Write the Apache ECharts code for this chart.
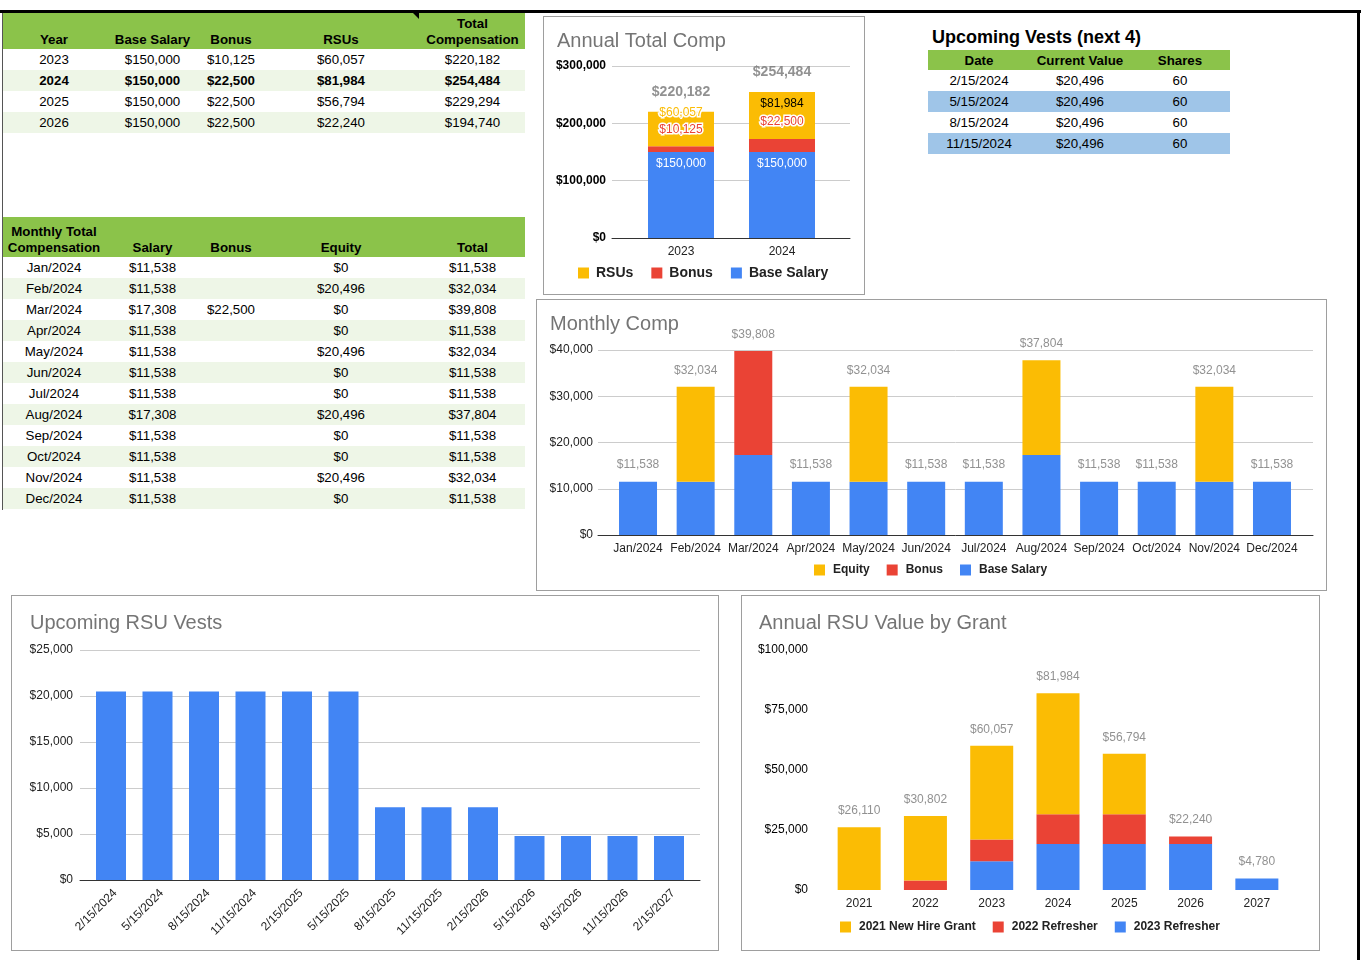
<!DOCTYPE html>
<html>
<head>
<meta charset="utf-8">
<script src="https://cdn.jsdelivr.net/npm/echarts/dist/echarts.min.js"></script>
<style>
  html,body{margin:0;padding:0;background:#fff;}
  body{width:1372px;height:960px;position:relative;overflow:hidden;font-family:"Liberation Sans",Arial,sans-serif;}
  .box{position:absolute;border:1px solid #9e9e9e;box-sizing:border-box;background:#fff;}
  .chart{position:absolute;left:0;top:0;width:100%;height:100%;}
  .line{position:absolute;background:#000;}
  table{border-collapse:collapse;table-layout:fixed;font-size:13.3px;color:#000;position:absolute;}
  td,th{padding:0;text-align:center;white-space:nowrap;overflow:visible;}
  th{font-weight:bold;vertical-align:bottom;line-height:16px;padding-bottom:1px;background:#8bc34a;}
  td{height:20px;line-height:20px;padding-top:1px;}
  tr.g td{background:#eef6e7;}
  tr.b td{background:#9fc5e8;}
  tr.bold td{font-weight:bold;}
  #vtitle{position:absolute;left:932px;top:27px;font-size:18px;font-weight:bold;line-height:20px;white-space:nowrap;}
  #tri{position:absolute;left:413px;top:13px;width:0;height:0;border-top:6px solid #000;border-left:6px solid transparent;}
</style>
</head>
<body>
<div class="line" style="left:0;top:10px;width:1361px;height:3px;"></div>
<div class="line" style="left:1357px;top:10px;width:3px;height:950px;"></div>
<div class="line" style="left:2px;top:13px;width:1px;height:497px;background:#555;"></div>

<table id="annualTable" style="left:3px;top:13px;width:522px;"></table>
<div id="tri"></div>
<table id="monthTable" style="left:3px;top:217px;width:522px;"></table>
<div id="vtitle">Upcoming Vests (next 4)</div>
<table id="vestTable" style="left:928px;top:50px;width:302px;"></table>

<div class="box" style="left:543px;top:16px;width:322px;height:279px;"><div class="chart" id="c1"></div></div>
<div class="box" style="left:536px;top:299px;width:791px;height:292px;"><div class="chart" id="c2"></div></div>
<div class="box" style="left:11px;top:595px;width:708px;height:356px;"><div class="chart" id="c3"></div></div>
<div class="box" style="left:741px;top:595px;width:579px;height:356px;"><div class="chart" id="c4"></div></div>

<script>
// ---------------- DATA ----------------
const annualYears = ['2023', '2024', '2025', '2026'];
const annualBase = [150000, 150000, 150000, 150000];
const annualBonus = [10125, 22500, 22500, 22500];
const annualRSU = [60057, 81984, 56794, 22240];
const annualTotal = [220182, 254484, 229294, 194740];
const annualChartCount = 2; // chart shows 2023 and 2024

const months = ['Jan/2024', 'Feb/2024', 'Mar/2024', 'Apr/2024', 'May/2024', 'Jun/2024',
                'Jul/2024', 'Aug/2024', 'Sep/2024', 'Oct/2024', 'Nov/2024', 'Dec/2024'];
const monthSalary = [11538, 11538, 17308, 11538, 11538, 11538, 11538, 17308, 11538, 11538, 11538, 11538];
const monthBonus = [0, 0, 22500, 0, 0, 0, 0, 0, 0, 0, 0, 0];
const monthEquity = [0, 20496, 0, 0, 20496, 0, 0, 20496, 0, 0, 20496, 0];
const monthTotal = [11538, 32034, 39808, 11538, 32034, 11538, 11538, 37804, 11538, 11538, 32034, 11538];

const vestDates = ['2/15/2024', '5/15/2024', '8/15/2024', '11/15/2024', '2/15/2025', '5/15/2025',
                   '8/15/2025', '11/15/2025', '2/15/2026', '5/15/2026', '8/15/2026', '11/15/2026', '2/15/2027'];
const vestValues = [20496, 20496, 20496, 20496, 20496, 20496, 7901, 7901, 7901, 4780, 4780, 4780, 4780];
const nextVestShares = [60, 60, 60, 60];

const grantYears = ['2021', '2022', '2023', '2024', '2025', '2026', '2027'];
const grantNewHire2021 = [26110, 26802, 39057, 50380, 25190, 0, 0];
const grantRefresher2022 = [0, 4000, 9050, 12484, 12484, 3120, 0];
const grantRefresher2023 = [0, 0, 11950, 19120, 19120, 19120, 4780];
const grantTotal = [26110, 30802, 60057, 81984, 56794, 22240, 4780];

// ---------------- HELPERS ----------------
const fmt = v => '$' + Number(v).toLocaleString('en-US');
const BLUE = '#4285f4', RED = '#ea4335', YELLOW = '#fbbc04';
const FONT = '"Liberation Sans", Arial, sans-serif';
const titleStyle = { fontSize: 20, fontWeight: 'normal', color: '#757575', fontFamily: FONT };

// ---------------- TABLES ----------------
(function () {
  const colW = [102, 95, 62, 158, 105];
  const cg = '<colgroup>' + colW.map(w => '<col style="width:' + w + 'px">').join('') + '</colgroup>';
  let h = cg + '<tr style="height:36px"><th>Year</th><th>Base Salary</th><th>Bonus</th><th>RSUs</th><th>Total<br>Compensation</th></tr>';
  annualYears.forEach((y, i) => {
    const cls = [(i % 2 === 1) ? 'g' : '', i === 1 ? 'bold' : ''].join(' ');
    h += '<tr class="' + cls + '"><td>' + y + '</td><td>' + fmt(annualBase[i]) + '</td><td>' + fmt(annualBonus[i]) +
         '</td><td>' + fmt(annualRSU[i]) + '</td><td>' + fmt(annualTotal[i]) + '</td></tr>';
  });
  document.getElementById('annualTable').innerHTML = h;

  let m = cg + '<tr style="height:40px"><th>Monthly Total<br>Compensation</th><th>Salary</th><th>Bonus</th><th>Equity</th><th>Total</th></tr>';
  months.forEach((mo, i) => {
    m += '<tr class="' + (i % 2 === 1 ? 'g' : '') + '"><td>' + mo + '</td><td>' + fmt(monthSalary[i]) + '</td><td>' +
         (monthBonus[i] ? fmt(monthBonus[i]) : '') + '</td><td>' + fmt(monthEquity[i]) + '</td><td>' + fmt(monthTotal[i]) + '</td></tr>';
  });
  document.getElementById('monthTable').innerHTML = m;

  let v = '<colgroup><col style="width:102px"><col style="width:100px"><col style="width:100px"></colgroup>' +
          '<tr style="height:20px"><th>Date</th><th>Current Value</th><th>Shares</th></tr>';
  nextVestShares.forEach((s, i) => {
    v += '<tr class="' + (i % 2 === 1 ? 'b' : '') + '"><td>' + vestDates[i] + '</td><td>' + fmt(vestValues[i]) + '</td><td>' + s + '</td></tr>';
  });
  document.getElementById('vestTable').innerHTML = v;
})();

// ---------------- CHART 1: Annual Total Comp ----------------
(function () {
  const n = annualChartCount;
  const yrs = annualYears.slice(0, n);
  const halo = { textBorderColor: '#fff', textBorderWidth: 3 };
  const baseLbl = [{ pos: 12, color: '#fff' }, { pos: 12, color: '#fff' }];
  const bonusLbl = [Object.assign({ pos: -17, color: RED }, halo), Object.assign({ pos: -17, color: RED }, halo)];
  const rsuLbl = [Object.assign({ pos: 1, color: YELLOW }, halo), { pos: 12, color: '#000' }];
  const mk = (vals, lbls) => vals.slice(0, n).map((v, i) => {
    const L = lbls[i];
    const label = { show: true, position: ['50%', L.pos], align: 'center', verticalAlign: 'middle',
      color: L.color, fontSize: 12, fontFamily: FONT, formatter: fmt(v) };
    if (L.textBorderColor) { label.textBorderColor = L.textBorderColor; label.textBorderWidth = L.textBorderWidth; }
    return { value: v, label: label };
  });
  const chart = echarts.init(document.getElementById('c1'));
  chart.setOption({
    animation: false,
    textStyle: { fontFamily: FONT },
    title: { text: 'Annual Total Comp', left: 13, top: 14, padding: 0, textStyle: titleStyle },
    legend: { left: 34, top: 249, padding: 0, itemWidth: 11, itemHeight: 11, itemGap: 18, icon: 'rect',
      data: ['RSUs', 'Bonus', 'Base Salary'],
      textStyle: { fontSize: 14, fontWeight: 'bold', color: '#222', fontFamily: FONT, padding: [0, 0, 0, 2] } },
    grid: [{ left: 68, top: 49, width: 238, height: 172 }, { left: 86.5, top: 49, width: 202, height: 172 }],
    xAxis: [
      { gridIndex: 0, type: 'value', min: 0, max: 1, axisLine: { show: true, lineStyle: { color: '#333' } },
        axisTick: { show: false }, axisLabel: { show: false }, splitLine: { show: false } },
      { gridIndex: 1, type: 'category', data: yrs, axisLine: { show: false }, axisTick: { show: false },
        axisLabel: { margin: 8, fontSize: 12, color: '#222', fontFamily: FONT } }
    ],
    yAxis: [
      { gridIndex: 0, type: 'value', min: 0, max: 300000, interval: 100000,
        axisLabel: { formatter: fmt, fontWeight: 'bold', fontSize: 12, color: '#000', margin: 6, fontFamily: FONT },
        splitLine: { lineStyle: { color: '#cccccc' } }, axisLine: { show: false }, axisTick: { show: false } },
      { gridIndex: 1, type: 'value', min: 0, max: 300000, interval: 100000, show: false }
    ],
    series: [
      { name: 'Base Salary', type: 'bar', stack: 't', xAxisIndex: 1, yAxisIndex: 1, barWidth: 66,
        itemStyle: { color: BLUE }, data: mk(annualBase, baseLbl) },
      { name: 'Bonus', type: 'bar', stack: 't', xAxisIndex: 1, yAxisIndex: 1, barWidth: 66,
        itemStyle: { color: RED }, data: mk(annualBonus, bonusLbl) },
      { name: 'RSUs', type: 'bar', stack: 't', xAxisIndex: 1, yAxisIndex: 1, barWidth: 66,
        itemStyle: { color: YELLOW }, data: mk(annualRSU, rsuLbl) },
      { name: 'Total', type: 'scatter', xAxisIndex: 1, yAxisIndex: 1, symbolSize: 1, silent: true,
        itemStyle: { color: 'rgba(0,0,0,0)' }, data: annualTotal.slice(0, n),
        label: { show: true, position: 'top', distance: 12, fontSize: 14, fontWeight: 'bold', color: '#757575',
          fontFamily: FONT, formatter: p => fmt(p.value) } }
    ]
  });
})();

// ---------------- CHART 2: Monthly Comp ----------------
(function () {
  const chart = echarts.init(document.getElementById('c2'));
  const bar = (name, data, color) => ({ name, type: 'bar', stack: 'm', xAxisIndex: 1, yAxisIndex: 1,
    barWidth: 38, itemStyle: { color }, data });
  chart.setOption({
    animation: false,
    textStyle: { fontFamily: FONT },
    title: { text: 'Monthly Comp', left: 13, top: 14, padding: 0, textStyle: titleStyle },
    legend: { left: 277, top: 264, padding: 0, itemWidth: 11, itemHeight: 11, itemGap: 17, icon: 'rect',
      data: ['Equity', 'Bonus', 'Base Salary'],
      textStyle: { fontSize: 12, fontWeight: 'bold', color: '#222', fontFamily: FONT, padding: [0, 0, 0, 3] } },
    grid: [{ left: 61, top: 50, width: 715, height: 185 }, { left: 72.2, top: 50, width: 691.6, height: 185 }],
    xAxis: [
      { gridIndex: 0, type: 'value', min: 0, max: 1, axisLine: { show: true, lineStyle: { color: '#333' } },
        axisTick: { show: false }, axisLabel: { show: false }, splitLine: { show: false } },
      { gridIndex: 1, type: 'category', data: months, axisLine: { show: false }, axisTick: { show: false },
        axisLabel: { margin: 8, fontSize: 12, color: '#222', interval: 0, fontFamily: FONT } }
    ],
    yAxis: [
      { gridIndex: 0, type: 'value', min: 0, max: 40000, interval: 10000,
        axisLabel: { formatter: fmt, fontSize: 12, color: '#222', margin: 5, fontFamily: FONT },
        splitLine: { lineStyle: { color: '#cccccc' } }, axisLine: { show: false }, axisTick: { show: false } },
      { gridIndex: 1, type: 'value', min: 0, max: 40000, interval: 10000, show: false }
    ],
    series: [
      bar('Base Salary', monthSalary, BLUE),
      bar('Bonus', monthBonus, RED),
      bar('Equity', monthEquity, YELLOW),
      { name: 'Total', type: 'scatter', xAxisIndex: 1, yAxisIndex: 1, symbolSize: 1, silent: true,
        itemStyle: { color: 'rgba(0,0,0,0)' }, data: monthTotal,
        label: { show: true, position: 'top', distance: 10, fontSize: 12, color: '#757575',
          fontFamily: FONT, formatter: p => fmt(p.value) } }
    ]
  });
})();

// ---------------- CHART 3: Upcoming RSU Vests ----------------
(function () {
  const chart = echarts.init(document.getElementById('c3'));
  chart.setOption({
    animation: false,
    textStyle: { fontFamily: FONT },
    title: { text: 'Upcoming RSU Vests', left: 18, top: 17, padding: 0, textStyle: titleStyle },
    grid: [{ left: 68, top: 54, width: 620, height: 230 }, { left: 75.75, top: 54, width: 604.5, height: 230 }],
    xAxis: [
      { gridIndex: 0, type: 'value', min: 0, max: 1, axisLine: { show: true, lineStyle: { color: '#333' } },
        axisTick: { show: false }, axisLabel: { show: false }, splitLine: { show: false } },
      { gridIndex: 1, type: 'category', data: vestDates, axisLine: { show: false }, axisTick: { show: false },
        axisLabel: { margin: 7, fontSize: 12, color: '#222', rotate: 45, interval: 0, fontFamily: FONT,
          align: 'right', verticalAlign: 'top' } }
    ],
    yAxis: [
      { gridIndex: 0, type: 'value', min: 0, max: 25000, interval: 5000,
        axisLabel: { formatter: fmt, fontSize: 12, color: '#222', margin: 7, fontFamily: FONT },
        splitLine: { lineStyle: { color: '#cccccc' } }, axisLine: { show: false }, axisTick: { show: false } },
      { gridIndex: 1, type: 'value', min: 0, max: 25000, interval: 5000, show: false }
    ],
    series: [
      { name: 'Value', type: 'bar', xAxisIndex: 1, yAxisIndex: 1, barWidth: 30,
        itemStyle: { color: BLUE }, data: vestValues }
    ]
  });
})();

// ---------------- CHART 4: Annual RSU Value by Grant ----------------
(function () {
  const chart = echarts.init(document.getElementById('c4'));
  const bar = (name, data, color) => ({ name, type: 'bar', stack: 'g', barWidth: 43, itemStyle: { color }, data });
  chart.setOption({
    animation: false,
    textStyle: { fontFamily: FONT },
    title: { text: 'Annual RSU Value by Grant', left: 17, top: 17, padding: 0, textStyle: titleStyle },
    legend: { left: 98, top: 325, padding: 0, itemWidth: 11, itemHeight: 11, itemGap: 17, icon: 'rect',
      data: ['2021 New Hire Grant', '2022 Refresher', '2023 Refresher'],
      textStyle: { fontSize: 12, fontWeight: 'bold', color: '#222', fontFamily: FONT, padding: [0, 0, 0, 3] } },
    grid: { left: 84, top: 54, width: 464, height: 240 },
    xAxis: { type: 'category', data: grantYears, axisLine: { show: false }, axisTick: { show: false },
      axisLabel: { margin: 8, fontSize: 12, color: '#222', fontFamily: FONT } },
    yAxis: { type: 'value', min: 0, max: 100000, interval: 25000,
      axisLabel: { formatter: fmt, fontSize: 12, color: '#000', margin: 18, fontFamily: FONT },
      splitLine: { show: false }, axisLine: { show: false }, axisTick: { show: false } },
    series: [
      bar('2023 Refresher', grantRefresher2023, BLUE),
      bar('2022 Refresher', grantRefresher2022, RED),
      bar('2021 New Hire Grant', grantNewHire2021, YELLOW),
      { name: 'Total', type: 'scatter', symbolSize: 1, silent: true,
        itemStyle: { color: 'rgba(0,0,0,0)' }, data: grantTotal,
        label: { show: true, position: 'top', distance: 10, fontSize: 12, color: '#757575',
          fontFamily: FONT, formatter: p => fmt(p.value) } }
    ]
  });
})();
</script>
</body>
</html>
